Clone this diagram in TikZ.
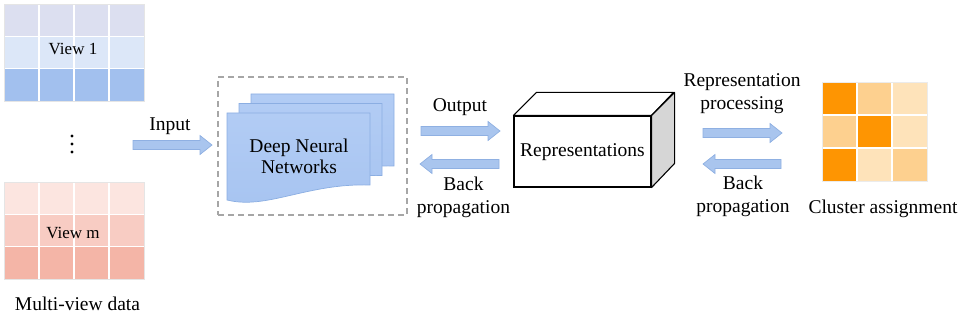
\documentclass[tikz,border=0pt]{standalone}
\usepackage{fontspec}
\setmainfont{Liberation Serif}
\definecolor{vOneA}{HTML}{DCDFF0}
\definecolor{vOneB}{HTML}{DCE7F8}
\definecolor{vOneC}{HTML}{A2C0EE}
\definecolor{vMA}{HTML}{FCE5E0}
\definecolor{vMB}{HTML}{F8CCC3}
\definecolor{vMC}{HTML}{F4B5A7}
\definecolor{arrowfill}{HTML}{A9C5EE}
\definecolor{arrowline}{HTML}{8FB0E2}
\definecolor{sheetfill}{HTML}{A7C4F1}
\definecolor{sheettop}{HTML}{B2CCF4}
\definecolor{sheetline}{HTML}{8BAEE2}
\definecolor{cDark}{HTML}{FE9502}
\definecolor{cMid}{HTML}{FDD08F}
\definecolor{cLight}{HTML}{FEE3BA}
\definecolor{boxgray}{HTML}{A6A6A6}
\definecolor{sidegray}{HTML}{D6D6D6}
\tikzset{
  lbl/.style={font=\fontsize{19.5}{22.5}\selectfont, inner sep=0pt, anchor=base},
  vlbl/.style={font=\fontsize{17}{20}\selectfont, inner sep=0pt, anchor=base},
  fatarrow/.style={draw=arrowline, fill=arrowfill, line width=0.7pt, line join=miter},
  sheet/.style={draw=sheetline, top color=sheettop, bottom color=sheetfill, line width=0.7pt},
  cellbox/.style={draw=white, line width=1.6pt},
  dnnbox/.style={draw=boxgray, dashed, dash pattern=on 6pt off 4pt, line width=1.3pt, minimum width=189pt, minimum height=138pt, inner sep=0pt},
  repbox/.style={draw=black, line width=1.1pt, fill=white, minimum width=137pt, minimum height=71pt, inner sep=0pt},
  cubeface/.style={draw=black, line width=1.1pt, line join=round},
}
% right / left pointing fat arrows: x-start, x-end, y
\newcommand\fatR[3]{\draw[fatarrow] (#1,#3-4.5) -- (#2-12,#3-4.5) -- (#2-12,#3-9.5) -- (#2,#3) -- (#2-12,#3+9.5) -- (#2-12,#3+4.5) -- (#1,#3+4.5) -- cycle;}
\newcommand\fatL[3]{\draw[fatarrow] (#2,#3-4.5) -- (#1+12,#3-4.5) -- (#1+12,#3-9.5) -- (#1,#3) -- (#1+12,#3+9.5) -- (#1+12,#3+4.5) -- (#2,#3+4.5) -- cycle;}
% document sheet with wavy bottom: top-left x, y
\newcommand\docsheet[2]{\draw[sheet] (#1,#2) -- (#1+143,#2) -- (#1+143,#2+72) .. controls (#1+80,#2+70) and (#1+40,#2+97) .. (#1,#2+87) -- cycle;}
\begin{document}
\begin{tikzpicture}[x=1pt,y=-1pt]
\useasboundingbox (0,0) rectangle (962,313);
% ---------- View 1 grid
\foreach \c [count=\r from 0] in {vOneA,vOneB,vOneC}{
  \foreach \k in {0,...,3}{
    \fill[\c] (4+\k*35,4+\r*32.33) rectangle ++(35,32.33);
  }
}
\foreach \k in {1,2,3}{\draw[cellbox] (4+\k*35,4) -- (4+\k*35,101);}
\foreach \r in {1,2}{\draw[cellbox] (4,4+\r*32.33) -- (144,4+\r*32.33);}
\draw[black!10, line width=0.6pt] (4,4) rectangle (144,101);
\node[vlbl] (view1) at (73,55) {View 1};
% ---------- View m grid
\foreach \c [count=\r from 0] in {vMA,vMB,vMC}{
  \foreach \k in {0,...,3}{
    \fill[\c] (4+\k*35,182+\r*32.33) rectangle ++(35,32.33);
  }
}
\foreach \k in {1,2,3}{\draw[cellbox] (4+\k*35,182) -- (4+\k*35,279);}
\foreach \r in {1,2}{\draw[cellbox] (4,182+\r*32.33) -- (144,182+\r*32.33);}
\draw[black!10, line width=0.6pt] (4,182) rectangle (144,279);
\node[vlbl] (viewm) at (73,238) {View m};
% dots
\foreach \yy in {136,144,152}{\fill (72,\yy) circle (1.6pt);}
\node[lbl] (mvd) at (77.5,310) {Multi-view data};
% ---------- Input arrow
\fatR{133}{212}{145}
\node[lbl] (input) at (170,130) {Input};
% ---------- DNN
\node[dnnbox] (dnn) at (312.5,146) {};
\docsheet{251}{94}
\docsheet{239}{103.5}
\docsheet{227}{113}
\node[lbl] (dnnA) at (299,152) {Deep Neural};
\node[lbl] (dnnB) at (299,173) {Networks};
% ---------- Output / back arrows
\fatR{421}{500}{131}
\node[lbl] (out) at (460,111) {Output};
\fatL{420}{499}{164}
\node[lbl] (backA) at (463.5,190) {Back};
\node[lbl] (backB) at (463.5,213) {propagation};
% ---------- Representations cuboid
\node[repbox] (rep) at (582.5,151.5) {};
\draw[cubeface, fill=white] (rep.north west) -- ++(23,-23) -- ++(137,0) -- (rep.north east) -- cycle;
\draw[cubeface, fill=sidegray] (rep.north east) -- ++(23,-23) -- ++(0,71) -- (rep.south east) -- cycle;
\node[lbl] (repT) at (582.5,156) {Representations};
% ---------- right arrows
\fatR{703}{782}{133}
\node[lbl] (rpA) at (742,87) {Representation};
\node[lbl] (rpB) at (742,110) {processing};
\fatL{703}{781}{164}
\node[lbl] (bkA) at (743,189) {Back};
\node[lbl] (bkB) at (743,212) {propagation};
% ---------- Cluster grid
\foreach \row [count=\r from 0] in {{cDark,cMid,cLight},{cMid,cDark,cLight},{cDark,cLight,cMid}}{
  \foreach \c [count=\k from 0] in \row {
    \fill[\c] (822+\k*35,82+\r*33) rectangle ++(35,33);
  }
}
\foreach \k in {1,2}{\draw[cellbox] (822+\k*35,82) -- (822+\k*35,181);}
\foreach \r in {1,2}{\draw[cellbox] (822,82+\r*33) -- (927,82+\r*33);}
\draw[black!8, line width=0.8pt] (822,82) rectangle (927,181);
\node[lbl] (clu) at (883,213) {Cluster assignment};
\end{tikzpicture}
\end{document}
